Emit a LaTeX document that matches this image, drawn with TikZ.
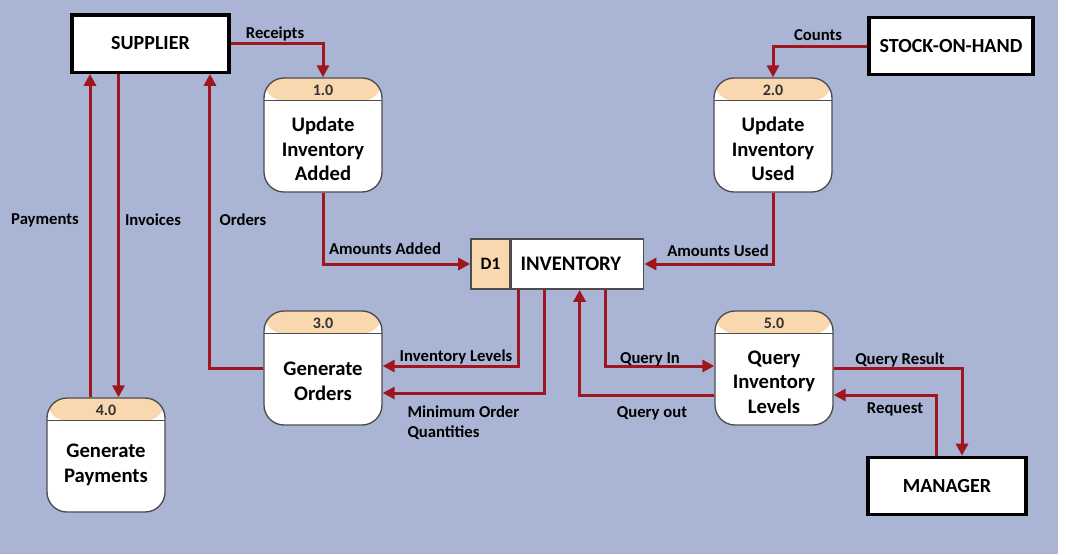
\documentclass[tikz,border=0pt]{standalone}
\usepackage{fontspec}
\setmainfont{Carlito}
\usetikzlibrary{arrows.meta}
\definecolor{bgblue}{RGB}{170,181,213}
\definecolor{headtan}{RGB}{249,215,175}
\definecolor{flowred}{RGB}{160,22,30}
\tikzset{every picture/.style={line width=0.75pt}}
\tikzset{
  entity/.style={draw, line width=2.5pt, fill=white, minimum height=43pt, font=\bfseries\fontsize{15}{17}\selectfont, inner sep=0pt},
  proc/.style={draw=black!70, line width=1pt, fill=white, rounded corners=15pt, minimum width=88.5pt, minimum height=85.5pt,
    path picture={\fill[headtan] ([yshift=1pt]path picture bounding box.north west) rectangle ([yshift=-17pt]path picture bounding box.north east);
      \draw[black!70, line width=1pt] ([yshift=-17pt]path picture bounding box.north west) -- ([yshift=-17pt]path picture bounding box.north east);}},
  proctxt/.style={align=center, font=\bfseries\fontsize{15.5}{18.5}\selectfont, inner sep=0pt},
  procnum/.style={font=\bfseries\fontsize{12}{13}\selectfont, text=black!80, inner sep=0pt},
  flow/.style={draw=flowred, line width=2.25pt, -{Triangle[length=9pt,width=9pt]}},
  flowlbl/.style={font=\bfseries\fontsize{12.5}{15}\selectfont, inner sep=0.75pt}
}
\begin{document}
\begin{tikzpicture}[x=0.75pt,y=0.75pt,yscale=-1,xscale=1]
	\fill[bgblue] (0,0) rectangle (1058,554);
	\fill[white] (1058,0) rectangle (1066,554);
	\useasboundingbox (0,0) rectangle (1066,554);
	
	% external entities
	\node[entity, minimum width=117.75pt] (sup) at (150.5,43.5) {SUPPLIER};
	\node[entity, minimum width=123pt] (soh) at (951,46) {STOCK-ON-HAND};
	\node[entity, minimum width=118.5pt] (man) at (947,486) {MANAGER};
	
	% processes
	\node[proc] (p1) at (323,135) {};
	\node[proc] (p2) at (773,135) {};
	\node[proc] (p3) at (323,368) {};
	\node[proc] (p4) at (106,455) {};
	\node[proc] (p5) at (774,368) {};
	\node[procnum] (n1) at (323,90) {1.0};
	\node[procnum] (n2) at (773,90) {2.0};
	\node[procnum] (n3) at (323,323) {3.0};
	\node[procnum] (n4) at (106,410) {4.0};
	\node[procnum] (n5) at (774,323) {5.0};
	\node[proctxt] (t1) at (323,149) {Update\\Inventory\\Added};
	\node[proctxt] (t2) at (773,149) {Update\\Inventory\\Used};
	\node[proctxt] (t3) at (323,381) {Generate\\Orders};
	\node[proctxt] (t4) at (106,465) {Generate\\Payments};
	\node[proctxt] (t5) at (774,382) {Query\\Inventory\\Levels};
	
	% data store
	\node[draw=black!70, line width=1.2pt, fill=headtan, minimum width=29.25pt, minimum height=37.5pt, font=\bfseries\fontsize{13}{14}\selectfont] (d1) at (490.5,264) {D1};
	\node[draw=black!70, line width=1.2pt, fill=white, minimum width=99pt, minimum height=37.5pt, anchor=west] (inv) at (d1.east) {};
	\node[font=\bfseries\fontsize{15.5}{17}\selectfont, anchor=west, inner sep=0pt] (invt) at (520,264) {INVENTORY};
	
	% flows
	\draw[flow] (sup.east) -| (p1.north);
	\draw[flow] (soh.west) -| (p2.north);
	\draw[flow] ([xshift=-12pt]p4.north) -- ([xshift=-12pt]p4.north |- sup.south);
	\draw[flow] ([xshift=-24pt]sup.south) -- ([xshift=-24pt]sup.south |- p4.north);
	\draw[flow] (p3.west) -| ([xshift=44.6pt]sup.south);
	\draw[flow] (p1.south) |- (d1.west);
	\draw[flow] (p2.south) |- (inv.east);
	\draw[flow] ([xshift=-44.25pt]inv.south) |- ([yshift=-1.5pt]p3.east);
	\draw[flow] ([xshift=-24.75pt]inv.south) |- ([yshift=18.75pt]p3.east);
	\draw[flow] ([xshift=21pt]inv.south) |- ([yshift=-1.5pt]p5.west);
	\draw[flow] ([yshift=20.25pt]p5.west) -| ([xshift=1.5pt]inv.south);
	\draw[flow] (p5.east) -| ([xshift=11.25pt]man.north);
	\draw[flow] ([xshift=-8.25pt]man.north) |- ([yshift=20.25pt]p5.east);
	
	% flow labels
	\node[flowlbl] (lrec) at (275,34) {Receipts};
	\node[flowlbl] (lcnt) at (818,35) {Counts};
	\node[flowlbl] (lpay) at (45,220) {Payments};
	\node[flowlbl] (linv) at (153,220) {Invoices};
	\node[flowlbl] (lord) at (243,220) {Orders};
	\node[flowlbl] (ladd) at (385,249) {Amounts Added};
	\node[flowlbl] (lused) at (718,251) {Amounts Used};
	\node[flowlbl] (llev) at (456,357) {Inventory Levels};
	\node[flowlbl, align=left, anchor=north west] (lmin) at (406,404) {Minimum Order\\Quantities};
	\node[flowlbl] (lqin) at (650,359) {Query In};
	\node[flowlbl] (lqout) at (652,413) {Query out};
	\node[flowlbl] (lres) at (900,360) {Query Result};
	\node[flowlbl] (lreq) at (895,409) {Request};
\end{tikzpicture}
\end{document}
